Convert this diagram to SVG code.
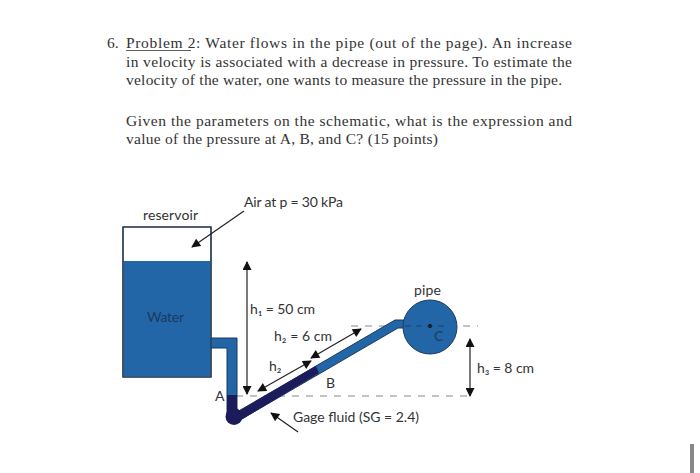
<svg xmlns="http://www.w3.org/2000/svg" width="700" height="473" viewBox="0 0 700 473">
<style>
.t{font-family:"Liberation Serif","DejaVu Serif",serif;font-size:15.5px;fill:#333}
.l{font-family:Lato,"Open Sans","Noto Sans",sans-serif;font-size:14px;fill:#333}
.s{fill:none;stroke:#222;stroke-width:1.2}
.d{fill:none;stroke:#888;stroke-width:1.2;stroke-dasharray:7 7}
.w{fill:#2366a8;stroke:#1d3a5c;stroke-width:1}
</style>
<defs>
<marker id="a" viewBox="0 0 10 10" refX="9" refY="5" markerWidth="11" markerHeight="9" markerUnits="userSpaceOnUse" orient="auto-start-reverse"><path d="M0 0L10 5L0 10Z" fill="#111"/></marker>
</defs>
<rect width="700" height="473" fill="#fff"/>
<g id="problem-text">
<text class="t" x="107" y="48">6.</text>
<text class="t" x="126" y="48" textLength="446">Problem 2: Water flows in the pipe (out of the page). An increase</text>
<path d="M126 50.500H191" stroke="#333" stroke-width="0.800" fill="none"/>
<text class="t" x="126" y="67" textLength="446">in velocity is associated with a decrease in pressure. To estimate the</text>
<text class="t" x="126" y="85" textLength="436">velocity of the water, one wants to measure the pressure in the pipe.</text>
<text class="t" x="126" y="126" textLength="446">Given the parameters on the schematic, what is the expression and</text>
<text class="t" x="126" y="144" textLength="312">value of the pressure at A, B, and C? (15 points)</text>
</g>
<g id="reference-lines">
<path class="d" d="M351 326H478"/>
<path class="d" d="M236 396H470"/>
</g>
<g id="reservoir">
<rect x="123" y="227" width="88" height="150" fill="#fff" stroke="#333" stroke-width="1.2"/>
<rect x="123.500" y="261" width="87" height="115.500" fill="#2366a8"/>
<path d="M123 261V377H211V227H123Z" fill="none" stroke="#1d3a5c" stroke-width="1.200"/>
<text class="l" x="143" y="220" textLength="55">reservoir</text>
<text class="l" x="147" y="322" textLength="37" style="fill:#1d3a5c">Water</text>
</g>
<g id="manometer">
<path d="M211 338H237V412L395 320H404V328H398L240 420L227 418V348H211Z" fill="#2366a8" stroke="#1d3a5c" stroke-width="1"/>
<path d="M227 395H237V412L316 366L319 373L241 420L227 417Z" fill="#1c1c5c"/>
<circle cx="234" cy="416.500" r="8.500" fill="#1c1c5c"/>
</g>
<g id="pipe">
<circle class="w" cx="430" cy="327" r="27"/>
<circle cx="430" cy="326" r="2" fill="#111"/>
<path d="M405 326H449" fill="none" stroke="#1d3a5c" stroke-width="0.800" stroke-dasharray="6 5"/>
<text class="l" x="414" y="295" textLength="27">pipe</text>
<text class="l" x="434" y="341" style="fill:#1d3a5c">C</text>
</g>
<g id="connectors">
<path class="s" d="M244 211L192 247" marker-end="url(#a)"/>
<path class="s" d="M247 262V394" marker-start="url(#a)" marker-end="url(#a)"/>
<path class="s" d="M311 361L258 391" marker-start="url(#a)" marker-end="url(#a)"/>
<path class="s" d="M361 329L311 358" marker-start="url(#a)" marker-end="url(#a)"/>
<path class="s" d="M298 432L271 413" marker-end="url(#a)"/>
<path class="s" d="M470 339V396" marker-start="url(#a)" marker-end="url(#a)"/>
</g>
<g id="labels">
<text class="l" x="244" y="207" textLength="99">Air at p = 30 kPa</text>
<text class="l" x="250" y="314" textLength="65">h₁ = 50 cm</text>
<text class="l" x="274" y="341" textLength="58">h₂ = 6 cm</text>
<text class="l" x="269" y="371">h₂</text>
<text class="l" x="326" y="388">B</text>
<text class="l" x="215" y="401">A</text>
<text class="l" x="293" y="422" textLength="126">Gage fluid (SG = 2.4)</text>
<text class="l" x="477" y="373" textLength="57">h₃ = 8 cm</text>
</g>
<rect id="scrollbar" x="690" y="444" width="4" height="29" fill="#888"/>
</svg>
